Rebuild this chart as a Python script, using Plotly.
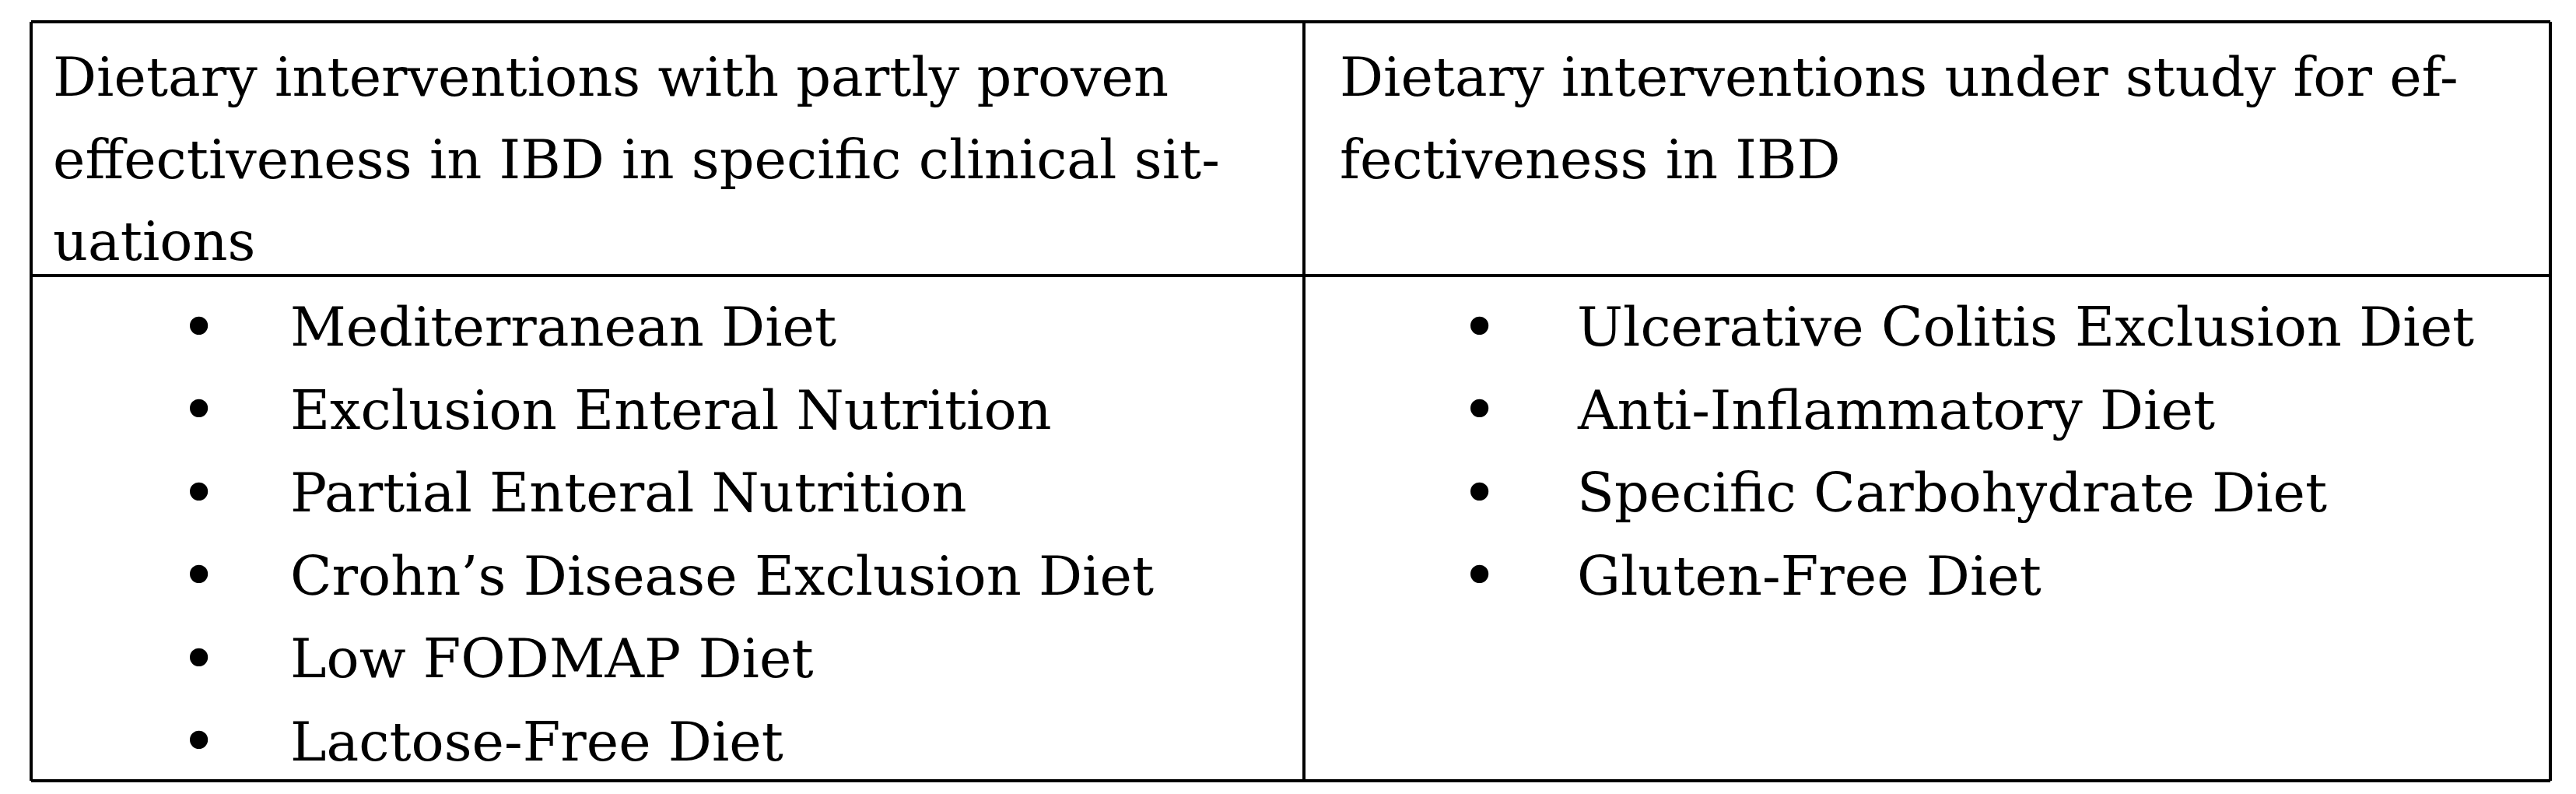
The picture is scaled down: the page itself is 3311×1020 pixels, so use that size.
import plotly.graph_objects as go

header_left = ["Dietary interventions with partly proven",
               "effectiveness in IBD in specific clinical sit-",
               "uations"]
header_right = ["Dietary interventions under study for ef-",
                "fectiveness in IBD"]
items_left = ["Mediterranean Diet", "Exclusion Enteral Nutrition",
              "Partial Enteral Nutrition", "Crohn\u2019s Disease Exclusion Diet",
              "Low FODMAP Diet", "Lactose-Free Diet"]
items_right = ["Ulcerative Colitis Exclusion Diet", "Anti-Inflammatory Diet",
               "Specific Carbohydrate Diet", "Gluten-Free Diet"]

W, H = 3311, 1020
L, R, M, T, HB, B = 32, 3270, 1668, 20, 346, 995
FONT = dict(family="DejaVu Serif, serif", size=70, color="black")

fig = go.Figure()
shapes = []
lw = 4
for x0, y0, x1, y1 in [(L, T, R, T), (L, B, R, B), (L, T, L, B), (R, T, R, B),
                       (M, T, M, B), (L, HB, R, HB)]:
    shapes.append(dict(type="line", x0=x0, y0=y0, x1=x1, y1=y1,
                       xref="x", yref="y", line=dict(color="black", width=lw)))

ann = []
def txt(x, y, s, size=None):
    f = dict(FONT)
    if size:
        f["size"] = size
    ann.append(dict(x=x, y=y, text=s, showarrow=False, xref="x", yref="y",
                    xanchor="left", yanchor="middle", font=f))

hy0, hstep = 91, 105.5
for i, s in enumerate(header_left):
    txt(58, hy0 + i * hstep, s)
for i, s in enumerate(header_right):
    txt(1712, hy0 + i * hstep, s)

iy0, istep = 412, 106.5
for i, s in enumerate(items_left):
    txt(222, iy0 + i * istep, "\u2022", 80)
    txt(363, iy0 + i * istep, s)
for i, s in enumerate(items_right):
    txt(1868, iy0 + i * istep, "\u2022", 80)
    txt(2017, iy0 + i * istep, s)

fig.update_layout(width=W, height=H, margin=dict(l=0, r=0, t=0, b=0),
                  paper_bgcolor="white", plot_bgcolor="white",
                  shapes=shapes, annotations=ann,
                  xaxis=dict(range=[0, W], visible=False, fixedrange=True),
                  yaxis=dict(range=[H, 0], visible=False, fixedrange=True),
                  showlegend=False)
fig.write_html("out.html", config={"displayModeBar": False})
